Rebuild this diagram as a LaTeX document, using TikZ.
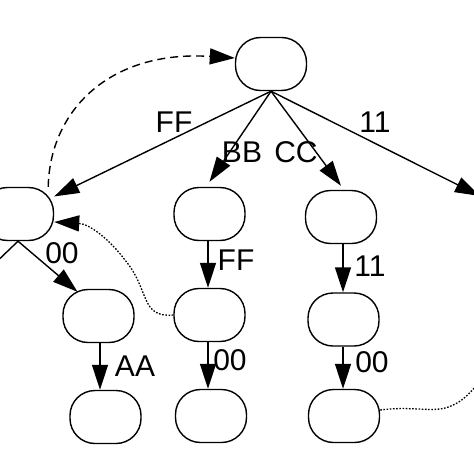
\documentclass[tikz,border=0pt]{standalone}
\usepackage{fontspec}
\setmainfont{Liberation Sans}
\usetikzlibrary{arrows.meta}
\begin{document}
\begin{tikzpicture}[x=1pt,y=-1pt,
  st/.style={draw,line width=1.4pt,rounded corners=25pt,minimum width=71pt,minimum height=53pt,inner sep=0pt},
  tip/.style={-{Triangle[length=25pt,width=16pt]}},
  ed/.style={line width=1.4pt,tip},
  dotline/.style={line width=1.3pt,dash pattern=on 1.6pt off 1.6pt},
  lab/.style={font=\fontsize{30}{30}\selectfont,inner sep=0pt}]
\useasboundingbox (0,0) rectangle (474,474);
\node[st] (r) at (271,64) {};
\node[st] (l1) at (18,214) {};
\node[st] (b1) at (209.5,214) {};
\node[st] (c1) at (341,217) {};
\node[st] (a2) at (98.5,316) {};
\node[st] (b2) at (209.5,315) {};
\node[st] (c2) at (343.5,319.5) {};
\node[st] (a3) at (105.5,417) {};
\node[st] (b3) at (211,416) {};
\node[st] (c3) at (344,416) {};
\coordinate (rout) at (480,196);
\coordinate (lout) at (-12,270);
\coordinate (dout) at (476,386);
% labels
\node[lab] (tFF) at (174,122) {FF};
\node[lab] (tBB) at (242,152) {BB};
\node[lab] (tCC) at (296,152) {CC};
\node[lab] (t11) at (375,122) {11};
\node[lab] (t00a) at (62,253) {00};
\node[lab] (tFFb) at (236,260) {FF};
\node[lab] (t11c) at (370,266) {11};
\node[lab] (tAA) at (135,366) {AA};
\node[lab] (t00b) at (230,360) {00};
\node[lab] (t00c) at (372,362) {00};
% edges
\draw[ed] (r.south) -- (l1);
\draw[ed] (r.south) -- ([yshift=5pt]b1.north);
\draw[ed] (r.south) -- ([yshift=4pt]c1.north);
\draw[ed] (r.south) -- (rout);
\draw[ed] (l1.south) -- ([xshift=-21pt,yshift=-3pt]a2.north);
\draw[line width=1.4pt] (l1.south) -- (lout);
\draw[ed] (a2.south -| 100,0) -- (a3.north -| 100,0);
\draw[ed] (b1.south -| 208,0) -- (b2.north -| 208,0);
\draw[ed] (b2.south -| 208,0) -- (b3.north -| 208,0);
\draw[ed] (c1.south -| 343,0) -- (c2.north -| 343,0);
\draw[ed] (c2.south -| 343,0) -- (c3.north -| 343,0);
% dashed / dotted
\draw[line width=1.4pt,dash pattern=on 8pt off 5pt,tip]
  ([xshift=-6pt]l1.north east) .. controls (50,110) and (110,50) .. ([yshift=6pt]r.west);
\draw[dotline,tip]
  (b2.west) .. controls (140,318) and (150,290) .. (125,260) .. controls (110,240) and (90,224) .. ([yshift=-8pt]l1.east);
\draw[dotline]
  ([yshift=6pt]c3.east) .. controls (410,406) and (430,412) .. (445,408) .. controls (460,404) and (468,395) .. (dout);
\end{tikzpicture}
\end{document}
